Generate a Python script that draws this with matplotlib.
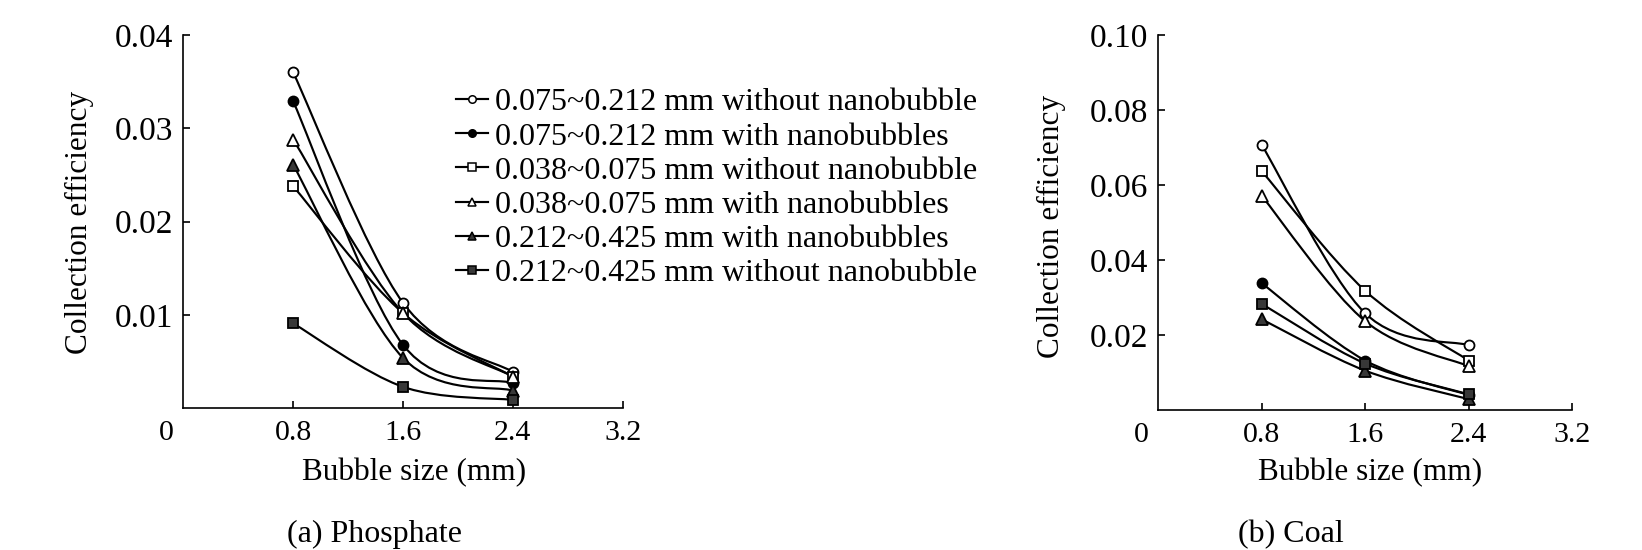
import numpy as np
import matplotlib
matplotlib.use("Agg")
import matplotlib.pyplot as plt
from matplotlib.path import Path
from matplotlib.patches import PathPatch
from matplotlib.lines import Line2D

plt.rcParams['font.family'] = ['Liberation Serif', 'DejaVu Serif']

# ---------------- data ----------------
bubble_size = [0.8, 1.6, 2.4]
series_labels = [
    "0.075~0.212 mm without nanobubble",
    "0.075~0.212 mm with nanobubbles",
    "0.038~0.075 mm without nanobubble",
    "0.038~0.075 mm with nanobubbles",
    "0.212~0.425 mm with nanobubbles",
    "0.212~0.425 mm without nanobubble",
]
phosphate_075_212_without = [0.0360, 0.0113, 0.0039]
phosphate_075_212_with = [0.0329, 0.0068, 0.0027]
phosphate_038_075_without = [0.0238, 0.0102, 0.0034]
phosphate_038_075_with = [0.0288, 0.0102, 0.0034]
phosphate_212_425_with = [0.0261, 0.0054, 0.0019]
phosphate_212_425_without = [0.0091, 0.0023, 0.0009]

coal_075_212_without = [0.0707, 0.0258, 0.0173]
coal_075_212_with = [0.0338, 0.0132, 0.0040]
coal_038_075_without = [0.0637, 0.0318, 0.0132]
coal_038_075_with = [0.0571, 0.0237, 0.0117]
coal_212_425_with = [0.0242, 0.0105, 0.0029]
coal_212_425_without = [0.0283, 0.0124, 0.0042]

phosphate = [phosphate_075_212_without, phosphate_075_212_with,
             phosphate_038_075_without, phosphate_038_075_with,
             phosphate_212_425_with, phosphate_212_425_without]
coal = [coal_075_212_without, coal_075_212_with,
        coal_038_075_without, coal_038_075_with,
        coal_212_425_with, coal_212_425_without]

x_ticks = [0.8, 1.6, 2.4, 3.2]
x_ticklabels = ["0.8", "1.6", "2.4", "3.2"]
phos_yticks = [0.01, 0.02, 0.03, 0.04]
phos_yticklabels = ["0.01", "0.02", "0.03", "0.04"]
coal_yticks = [0.02, 0.04, 0.06, 0.08, 0.10]
coal_yticklabels = ["0.02", "0.04", "0.06", "0.08", "0.10"]

# ---------------- styles ----------------
DARK = '#383838'
styles = [
    dict(marker='o', mfc='white', ms=7.2),
    dict(marker='o', mfc='black', ms=7.2),
    dict(marker='s', mfc='white', ms=7.2),
    dict(marker='^', mfc='white', ms=8.2),
    dict(marker='^', mfc=DARK, ms=8.2),
    dict(marker='s', mfc=DARK, ms=7.2),
]
LW = 1.55
FS_XT = 21.5
FS_YT = 24
FS_LAB = 22.5
FS_TITLE = 23
FS_LEG = 23

W, H = 1642, 550
fig = plt.figure(figsize=(W / 100, H / 100), dpi=100)


def px_axes(x0, x1, ytop, ybot):
    return fig.add_axes([x0 / W, 1 - ybot / H, (x1 - x0) / W, (ybot - ytop) / H])


def smooth_path(xs, ys):
    pts = np.column_stack([xs, ys]).astype(float)
    n = len(pts)
    verts = [pts[0]]
    codes = [Path.MOVETO]
    for i in range(n - 1):
        p0 = pts[max(i - 1, 0)]
        p1 = pts[i]
        p2 = pts[i + 1]
        p3 = pts[min(i + 2, n - 1)]
        verts += [p1 + (p2 - p0) / 6.0, p2 - (p3 - p1) / 6.0, p2]
        codes += [Path.CURVE4] * 3
    return Path(verts, codes)


def draw_panel(ax, data, ymax, yticks, yticklabels, ypad):
    for vals, st in zip(data, styles):
        patch = PathPatch(smooth_path(bubble_size, vals), facecolor='none',
                          edgecolor='black', lw=LW, transform=ax.transData,
                          zorder=2)
        ax.add_patch(patch)
        ax.plot(bubble_size, vals, linestyle='none', marker=st['marker'],
                markerfacecolor=st['mfc'], markeredgecolor='black',
                markeredgewidth=1.3, markersize=st['ms'], zorder=3,
                clip_on=False)
    ax.set_xlim(0, 3.2)
    ax.set_ylim(0, ymax)
    ax.set_xticks(x_ticks)
    ax.set_xticklabels(x_ticklabels, fontsize=FS_XT)
    ax.set_yticks(yticks)
    ax.set_yticklabels(yticklabels, fontsize=FS_YT)
    for s in ['top', 'right']:
        ax.spines[s].set_visible(False)
    for s in ['left', 'bottom']:
        ax.spines[s].set_linewidth(1.2)
    ax.tick_params(axis='both', direction='in', length=5, width=1.2)
    ax.tick_params(axis='x', pad=8.4)
    ax.tick_params(axis='y', pad=ypad)
    ax.annotate("0", xy=(0, 0), xycoords='axes fraction',
                xytext=(-12.2, -8.4), textcoords='offset points',
                ha='center', va='top', fontsize=FS_XT)


axL = px_axes(183.3, 622.7, 35, 408.3)
draw_panel(axL, phosphate, 0.04, phos_yticks, phos_yticklabels, 7)
axR = px_axes(1158.3, 1572.0, 35, 410)
draw_panel(axR, coal, 0.10, coal_yticks, coal_yticklabels, 7.5)

# axis labels and captions
fig.text(79 / W, 1 - 222 / H, "Collection efficiency", rotation=90,
         ha='center', va='center', fontsize=FS_LAB)
fig.text(1051 / W, 1 - 226 / H, "Collection efficiency", rotation=90,
         ha='center', va='center', fontsize=FS_LAB)
fig.text(414 / W, 1 - 480.5 / H, "Bubble size (mm)", ha='center',
         va='baseline', fontsize=FS_LAB)
fig.text(1370 / W, 1 - 480.5 / H, "Bubble size (mm)", ha='center',
         va='baseline', fontsize=FS_LAB)
fig.text(374 / W, 1 - 542 / H, "(a) Phosphate", ha='center',
         va='baseline', fontsize=FS_TITLE)
fig.text(1291 / W, 1 - 542 / H, "(b) Coal", ha='center',
         va='baseline', fontsize=FS_TITLE)

# legend
handles = [Line2D([], [], color='black', lw=LW, marker=st['marker'],
                  markerfacecolor=st['mfc'], markeredgecolor='black',
                  markeredgewidth=1.1, markersize=st['ms'] * 0.75)
           for st in styles]
fig.legend(handles, series_labels, loc='upper left',
           bbox_to_anchor=(456 / W, 1 - 88 / H), bbox_transform=fig.transFigure,
           frameon=False, fontsize=FS_LEG, handlelength=1.0, handletextpad=0.22,
           labelspacing=0.15, borderpad=0, borderaxespad=0)

fig.savefig("out.png", dpi=100)
